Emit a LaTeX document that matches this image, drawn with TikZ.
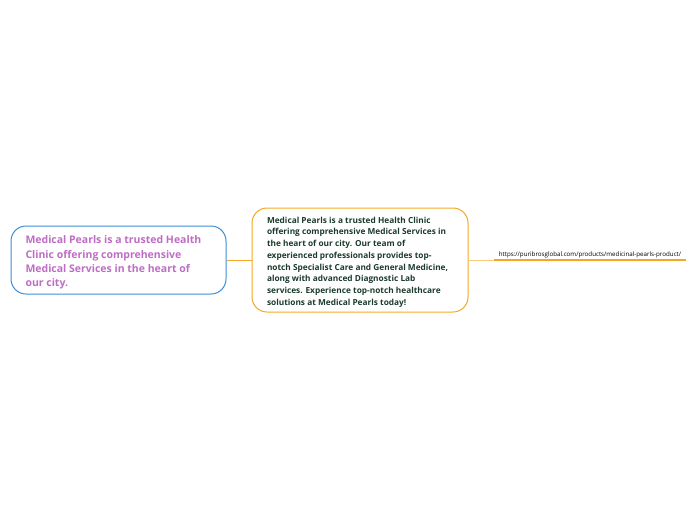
\documentclass[tikz,border=0pt]{standalone}
\usepackage{fontspec}
\setmainfont{Open Sans}
\usepackage{xcolor}
\usetikzlibrary{shapes,arrows,positioning,calc}
\definecolor{topicblue}{HTML}{3A8FD6}
\definecolor{topicorange}{HTML}{F5A623}
\definecolor{topicpink}{HTML}{BE6CC4}
\definecolor{topicgreen}{HTML}{1B3B2C}
\tikzset{
  topicbox/.style={draw, line width=1pt, rounded corners=15pt, align=left, inner sep=0pt, font=\bfseries},
  branch/.style={draw=topicorange, line width=0.8pt}
}

\begin{document}
\begin{tikzpicture}[x=1pt,y=-1pt]
    \useasboundingbox (0,0) rectangle (696,520);

    % Left topic
    \node [topicbox, draw=topicblue, minimum width=215pt, minimum height=68pt, text=topicpink,
           font=\bfseries\fontsize{10.5}{14.3}\selectfont] (clinic) at (118.5,260)
      {\raisebox{-2.5pt}[\height][\depth]{\hspace{2pt}\parbox{188pt}{Medical Pearls is a trusted Health\\Clinic offering comprehensive\\Medical Services in the heart of\\our city.}}};

    % Central topic
    \node [topicbox, draw=topicorange, minimum width=216pt, minimum height=104pt, text=topicgreen,
           font=\bfseries\fontsize{8.3}{11.75}\selectfont] (pearls) at (360,260)
      {\raisebox{-2pt}[\height][\depth]{\parbox{186pt}{Medical Pearls is a trusted Health Clinic\\offering comprehensive Medical Services in\\the heart of our city. Our team of\\experienced professionals provides top-\\notch Specialist Care and General Medicine,\\along with advanced Diagnostic Lab\\services. Experience top-notch healthcare\\solutions at Medical Pearls today!}}};

    % Link
    \coordinate (linkstart) at (494,260);
    \coordinate (linkend) at (686,260);
    \node [font=\fontsize{6.2}{7}\selectfont, anchor=south, inner sep=1.5pt] (link) at ($(linkstart)!0.5!(linkend)$)
      {https://puribrosglobal.com/products/medicinal-pearls-product/};

    % Branches
    \draw [branch] (clinic.east) -- (pearls.west);
    \draw [branch, line width=0.5pt, draw=topicorange!60] (pearls.east) -- (linkstart);
    \draw [branch, line width=1.2pt] (linkstart) -- (linkend);
\end{tikzpicture}
\end{document}
